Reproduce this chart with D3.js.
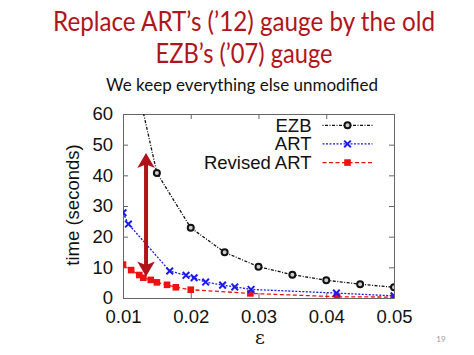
<!DOCTYPE html>
<html>
<head>
<meta charset="utf-8">
<script src="https://cdn.jsdelivr.net/npm/d3@7"></script>
<style>
  body { margin: 0; background: #fff; }
  svg { display: block; }
</style>
</head>
<body>
<div id="chart"></div>
<script>
// EZB ('07) gauge
const ezbEps = [0.01, 0.015, 0.02, 0.025, 0.03, 0.035, 0.04, 0.045, 0.05];
const ezbTime = [90, 40.8, 22.9, 14.9, 10.2, 7.6, 5.8, 4.5, 3.5];

// ART ('12)
const artEps = [0.01, 0.0108, 0.0169, 0.0193, 0.0205, 0.0222, 0.0247, 0.0265, 0.0289, 0.0415, 0.05];
const artTime = [27.8, 24.1, 8.8, 7.4, 6.6, 5.2, 4.2, 3.6, 2.8, 1.6, 0.7];

// Revised ART
const revEps = [0.01, 0.0112, 0.0124, 0.013, 0.0141, 0.015, 0.0165, 0.0178, 0.02, 0.0288, 0.0416, 0.05];
const revTime = [10.9, 9.1, 7.5, 6.6, 5.9, 5.1, 4.3, 3.5, 2.7, 1.5, 0.4, 0.3];

const xTicks = [0.01, 0.02, 0.03, 0.04, 0.05];
const yTicks = [0, 10, 20, 30, 40, 50, 60];

// the red arrow: epsilon and the two times it spans
const arrowEps = 0.0134;
const arrowFrom = 7.5;
const arrowTo = 46.8;

const width = 474, height = 355;
const margin = { top: 114, right: 80, bottom: 57, left: 123 };
const innerWidth = width - margin.left - margin.right;
const innerHeight = height - margin.top - margin.bottom;

const svg = d3.select('#chart').append('svg')
  .attr('width', width)
  .attr('height', height);

// titles
const titleFont = 'Lato, "Open Sans", sans-serif';
svg.append('text')
  .attr('x', 244).attr('y', 31)
  .attr('text-anchor', 'middle')
  .attr('font-family', titleFont)
  .attr('font-size', '27px')
  .attr('fill', '#b0141c')
  .attr('textLength', 382).attr('lengthAdjust', 'spacingAndGlyphs')
  .text('Replace ART’s (’12) gauge by the old');
svg.append('text')
  .attr('x', 244).attr('y', 63)
  .attr('text-anchor', 'middle')
  .attr('font-family', titleFont)
  .attr('font-size', '27px')
  .attr('fill', '#b0141c')
  .attr('textLength', 177).attr('lengthAdjust', 'spacingAndGlyphs')
  .text('EZB’s (’07) gauge');
svg.append('text')
  .attr('x', 242).attr('y', 91)
  .attr('text-anchor', 'middle')
  .attr('font-family', titleFont)
  .attr('font-size', '17px')
  .attr('fill', '#111')
  .attr('textLength', 272).attr('lengthAdjust', 'spacingAndGlyphs')
  .text('We keep everything else unmodified');

svg.append('text')
  .attr('x', 441).attr('y', 342)
  .attr('text-anchor', 'middle')
  .attr('font-family', titleFont)
  .attr('font-size', '8px')
  .attr('fill', '#999')
  .text('19');

const g = svg.append('g')
  .attr('transform', `translate(${margin.left},${margin.top})`);

const x = d3.scaleLinear().domain([0.01, 0.05]).range([0, innerWidth]);
const y = d3.scaleLinear().domain([0, 60]).range([innerHeight, 0]);

const axisFont = '"Liberation Sans", Arial, sans-serif';
const axisSize = '18.5px';

// AXES (ticks inward, mirrored on top and right)
const bottomAxis = g.append('g')
  .attr('transform', `translate(0,${innerHeight})`)
  .call(d3.axisBottom(x).tickValues(xTicks).tickFormat(d3.format('.2f')).tickSizeInner(-5).tickSizeOuter(0).tickPadding(12));
const leftAxis = g.append('g')
  .call(d3.axisLeft(y).tickValues(yTicks).tickSizeInner(-5).tickSizeOuter(0).tickPadding(10));
const topAxis = g.append('g')
  .call(d3.axisTop(x).tickValues(xTicks).tickSizeInner(-5).tickSizeOuter(0));
const rightAxis = g.append('g')
  .attr('transform', `translate(${innerWidth},0)`)
  .call(d3.axisRight(y).tickValues(yTicks).tickSizeInner(-5).tickSizeOuter(0));
topAxis.selectAll('text').remove();
rightAxis.selectAll('text').remove();

[bottomAxis, leftAxis, topAxis, rightAxis].forEach(a => {
  a.select('.domain').attr('stroke', '#666');
  a.selectAll('.tick line').attr('stroke', '#666');
  a.selectAll('text')
    .attr('font-family', axisFont)
    .attr('font-size', axisSize)
    .attr('fill', '#111');
});

g.append('text')
  .attr('transform', 'rotate(-90)')
  .attr('x', -innerHeight / 2 + 1)
  .attr('y', -44)
  .attr('text-anchor', 'middle')
  .attr('font-family', axisFont)
  .attr('font-size', axisSize)
  .attr('fill', '#111')
  .text('time (seconds)');

g.append('text')
  .attr('x', x(0.0302))
  .attr('y', innerHeight + 46)
  .attr('text-anchor', 'middle')
  .attr('font-family', '"DejaVu Serif", serif')
  .attr('font-size', '19px')
  .attr('fill', '#111')
  .text('ε');

// CLIP
svg.append('defs').append('clipPath').attr('id', 'plot-clip')
  .append('rect').attr('width', innerWidth).attr('height', innerHeight);

const plot = g.append('g').attr('clip-path', 'url(#plot-clip)');

const line = d3.line().x(d => x(d[0])).y(d => y(d[1]));

const series = [
  { key: 'EZB', eps: ezbEps, time: ezbTime, color: '#111', dash: '1,1.5,3,1.5', marker: 'circle' },
  { key: 'ART', eps: artEps, time: artTime, color: '#1a1aee', dash: '2,1.5', marker: 'cross' },
  { key: 'Revised ART', eps: revEps, time: revTime, color: '#ee1111', dash: '4,2.5', marker: 'square' }
];

function drawMarker(sel, s) {
  if (s.marker === 'circle') {
    sel.append('circle').attr('r', 3)
      .attr('fill', '#ccc').attr('stroke', '#111').attr('stroke-width', 2);
  } else if (s.marker === 'cross') {
    sel.append('path').attr('d', 'M-3.3,-3.3L3.3,3.3M-3.3,3.3L3.3,-3.3')
      .attr('stroke', s.color).attr('stroke-width', 2);
  } else {
    sel.append('rect').attr('x', -3.3).attr('y', -3.3).attr('width', 6.6).attr('height', 6.6)
      .attr('fill', s.color);
  }
}

series.slice().reverse().forEach(s => {
  const pts = s.eps.map((e, i) => [e, s.time[i]]);
  plot.append('path')
    .datum(pts)
    .attr('fill', 'none')
    .attr('stroke', s.color)
    .attr('stroke-width', 1.3)
    .attr('stroke-dasharray', s.dash)
    .attr('d', line);
  plot.selectAll(null)
    .data(pts)
    .join('g')
    .attr('transform', d => `translate(${x(d[0])},${y(d[1])})`)
    .each(function() { drawMarker(d3.select(this), s); });
});

// ARROW
const arrowColor = '#b0141a';
const ax = x(arrowEps);
const yTop = y(arrowTo), yBot = y(arrowFrom);
g.append('line')
  .attr('x1', ax).attr('x2', ax)
  .attr('y1', yTop + 8).attr('y2', yBot - 8)
  .attr('stroke', arrowColor)
  .attr('stroke-width', 4);
g.append('path')
  .attr('d', `M${ax},${yTop}L${ax - 7},${yTop + 12}L${ax},${yTop + 9}L${ax + 7},${yTop + 12}Z`)
  .attr('fill', arrowColor).attr('stroke', arrowColor).attr('stroke-width', 1.5).attr('stroke-linejoin', 'miter');
g.append('path')
  .attr('d', `M${ax},${yBot}L${ax - 7},${yBot - 12}L${ax},${yBot - 9}L${ax + 7},${yBot - 12}Z`)
  .attr('fill', arrowColor).attr('stroke', arrowColor).attr('stroke-width', 1.5).attr('stroke-linejoin', 'miter');

// LEGEND
const legend = g.append('g')
  .attr('transform', `translate(${x(0.03) + 53},${y(56.3)})`);
const items = legend.selectAll('g')
  .data(series)
  .join('g')
  .attr('transform', (d, i) => `translate(0,${i * 18.6})`);
items.append('text')
  .attr('x', 0).attr('y', 6.5)
  .attr('text-anchor', 'end')
  .attr('font-family', axisFont)
  .attr('font-size', axisSize)
  .attr('fill', '#111')
  .text(d => d.key);
items.append('line')
  .attr('x1', 11).attr('x2', 61)
  .attr('stroke', d => d.color)
  .attr('stroke-width', 1.3)
  .attr('stroke-dasharray', d => d.dash);
items.append('g')
  .attr('transform', 'translate(36,0)')
  .each(function(d) { drawMarker(d3.select(this), d); });
</script>
</body>
</html>
